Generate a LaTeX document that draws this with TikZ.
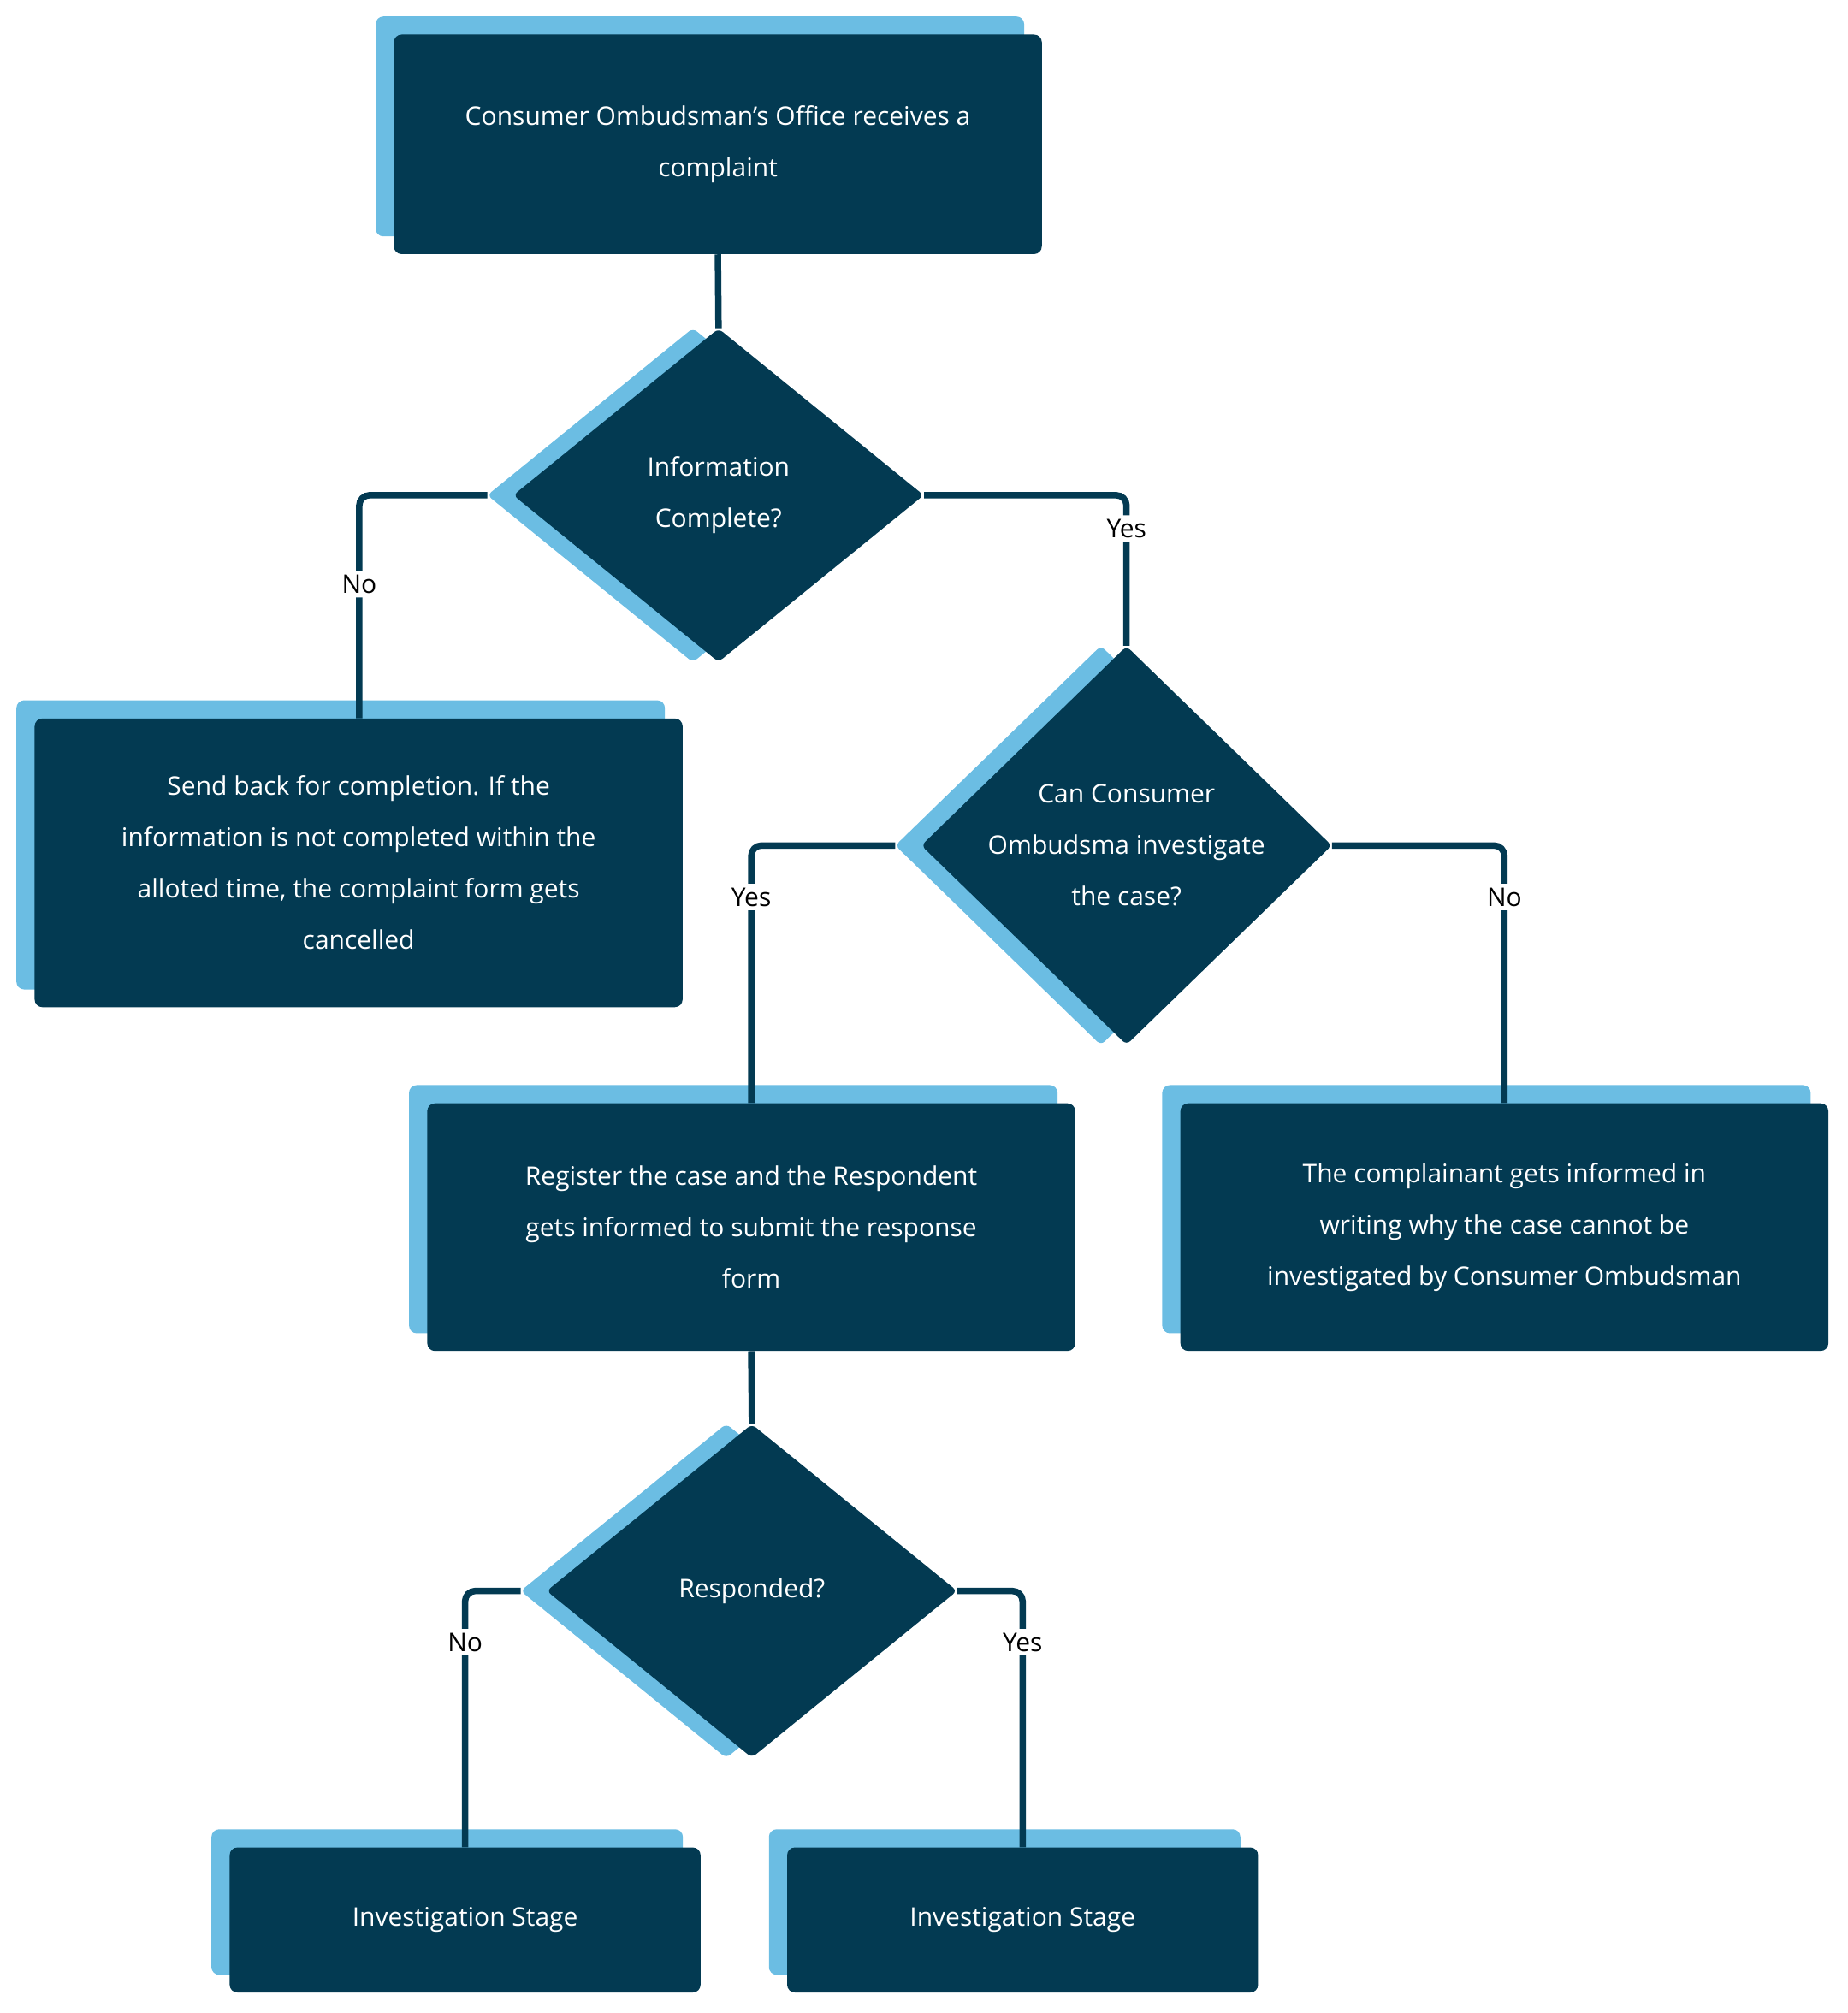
\documentclass[tikz,border=0pt]{standalone}
\usepackage{fontspec}
\setmainfont{Open Sans}
\usetikzlibrary{shapes.geometric}
\definecolor{dk}{HTML}{033A52}
\definecolor{lt}{HTML}{6BBDE3}
\pgfdeclarelayer{shad}\pgfdeclarelayer{conn}
\pgfsetlayers{shad,conn,main}
\tikzset{x=1pt,y=1pt,
 box/.style={fill=dk,text=white,rounded corners=6pt,align=center,inner sep=0pt,font=\fontsize{20}{40}\selectfont},
 dia/.style={diamond,fill=dk,text=white,align=center,inner sep=0pt,minimum width=320pt,minimum height=260pt,rounded corners=4pt,font=\fontsize{20}{40}\selectfont},
 conn/.style={draw=dk,line width=5pt,rounded corners=8pt},
 lab/.style={fill=white,text=black,inner sep=3pt,font=\fontsize{20}{24}\selectfont}}
\newcommand{\bshadow}[1]{\begin{pgfonlayer}{shad}\fill[lt,rounded corners=6pt] ([shift={(-14,14)}]#1.south west) rectangle ([shift={(-14,14)}]#1.north east);\end{pgfonlayer}}
\newcommand{\dshadow}[1]{\begin{pgfonlayer}{shad}\fill[lt,rounded corners=4pt] ([xshift=-20]#1.north) -- ([xshift=-20]#1.west) -- ([xshift=-20]#1.south) -- ([xshift=-20]#1.east) -- cycle;\end{pgfonlayer}}
\begin{document}
\begin{tikzpicture}
\useasboundingbox (0,0) rectangle (1440,-1569);
\node[box,minimum width=505,minimum height=171] (b1) at (559.5,-112.5) {Consumer Ombudsman's Office receives a\\complaint};
\node[dia] (d1) at (560,-386) {Information\\Complete?};
\node[box,minimum width=505,minimum height=225] (b2) at (279.5,-672.5) {Send back for completion. If the\\information is not completed within the\\alloted time, the complaint form gets\\cancelled};
\node[dia] (d2) at (878,-659) {Can Consumer\\Ombudsma investigate\\the case?};
\node[box,minimum width=505,minimum height=193] (b3) at (585.5,-956.5) {Register the case and the Respondent\\gets informed to submit the response\\form};
\node[box,minimum width=505,minimum height=193] (b4) at (1172.5,-956.5) {The complainant gets informed in\\writing why the case cannot be\\investigated by Consumer Ombudsman};
\node[dia] (d3) at (586,-1240) {Responded?};
\node[box,minimum width=367,minimum height=113] (b5) at (362.5,-1496.5) {Investigation Stage};
\node[box,minimum width=367,minimum height=113] (b6) at (797,-1496.5) {Investigation Stage};
\bshadow{b1}\bshadow{b2}\bshadow{b3}\bshadow{b4}\bshadow{b5}\bshadow{b6}
\dshadow{d1}\dshadow{d2}\dshadow{d3}
\begin{pgfonlayer}{conn}
\draw[conn] (b1.south) -- (d1.north);
\draw[conn] ([xshift=-20]d1.west) -| node[lab,pos=0.7]{No} (b2.north-|280,0);
\draw[conn] (d1.east) -| node[lab,pos=0.61]{Yes} (d2.north);
\draw[conn] ([xshift=-20]d2.west) -| node[lab,pos=0.6]{Yes} (b3.north);
\draw[conn] (d2.east) -| node[lab,pos=0.6]{No} (b4.north);
\draw[conn] (b3.south) -- (d3.north);
\draw[conn] ([xshift=-20]d3.west) -| node[lab,pos=0.6]{No} (b5.north);
\draw[conn] (d3.east) -| node[lab,pos=0.6]{Yes} (b6.north);
\end{pgfonlayer}
\end{tikzpicture}
\end{document}
